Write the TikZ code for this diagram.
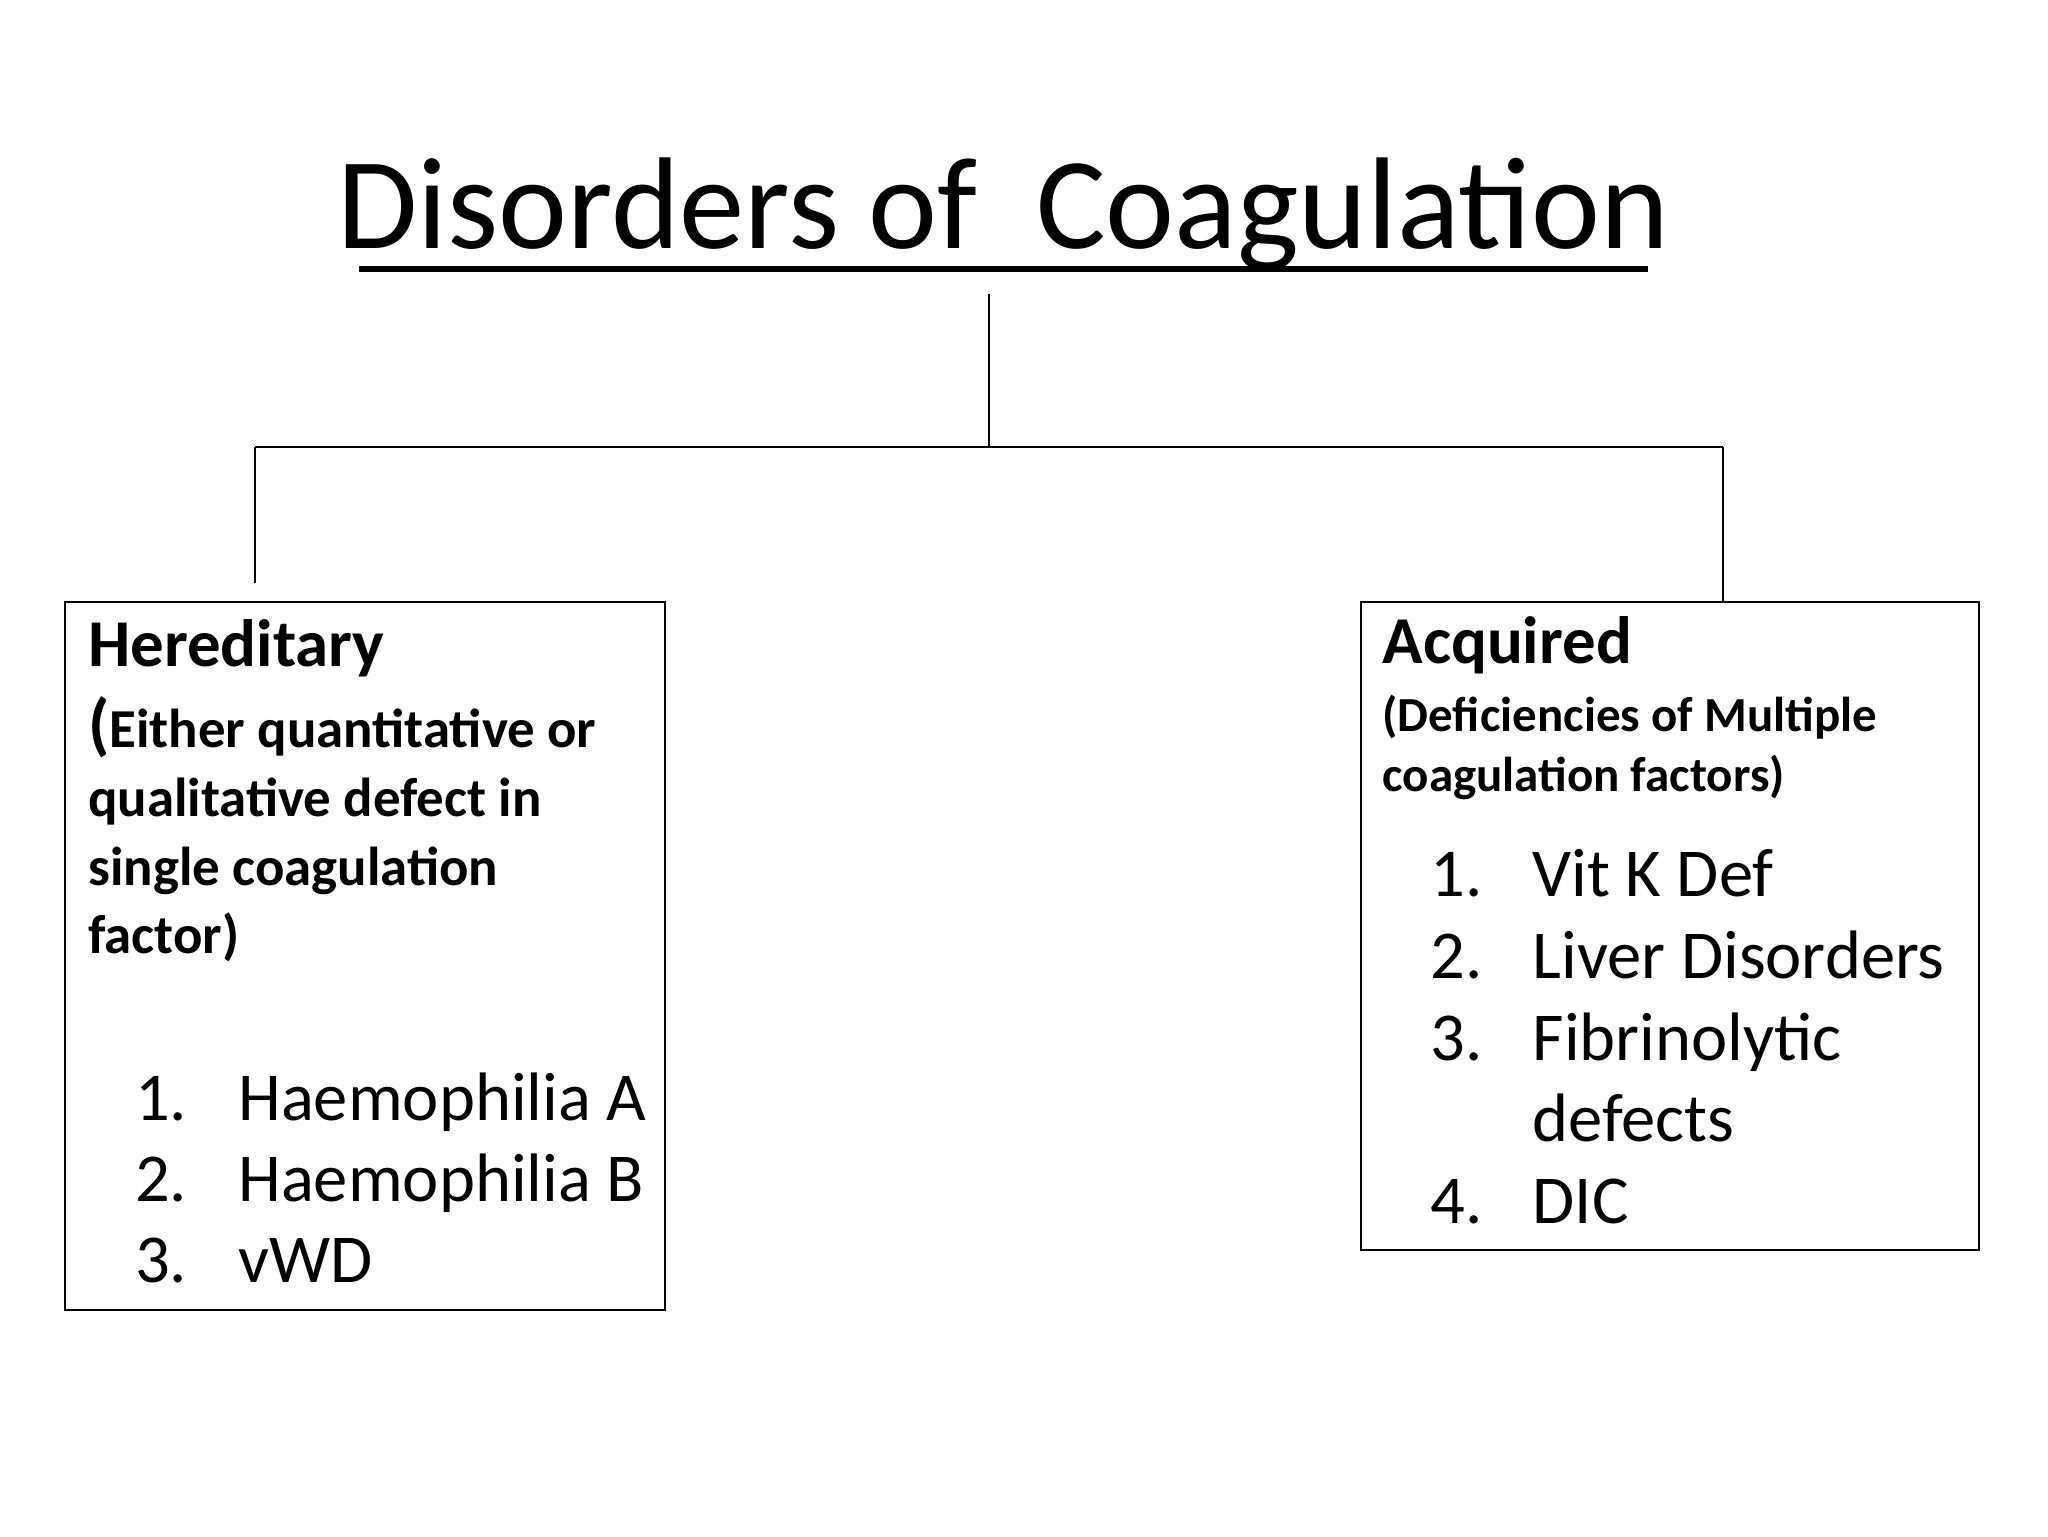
\documentclass[tikz,border=0pt]{standalone}
\usepackage{fontspec}
\setmainfont{Carlito}
\begin{document}
\begin{tikzpicture}[x=0.4pt,y=-0.4pt,
  ln/.style={draw=black,line width=0.6pt},
  box/.style={draw=black,line width=0.6pt},
  t/.style={anchor=base west,inner sep=0pt},
  bh/.style={t,font=\fontsize{20.5}{24}\selectfont\bfseries},
  bs/.style={t,font=\fontsize{16.8}{20}\selectfont\bfseries},
  bs2/.style={t,font=\fontsize{15}{18}\selectfont\bfseries},
  li/.style={t,font=\fontsize{21}{25}\selectfont}]
\useasboundingbox (0,0) rectangle (1568,1176);
\node[anchor=base,inner sep=0pt,font=\fontsize{40}{48}\selectfont] (title) at (768,190) {Disorders of\ \ Coagulation};
\draw[line width=2pt] (275,206) -- (1262,206);
\coordinate (top) at (757,225);
\coordinate (mid) at (757,342);
\coordinate (lc) at (195,342);
\coordinate (rc) at (1319,342);
\coordinate (lb) at (195,446);
\coordinate (rb) at (1319,461);
\draw[ln] (top) -- (mid);
\draw[ln] (lc) -- (rc);
\draw[ln] (lc) -- (lb);
\draw[ln] (rc) -- (rb);
\draw[box] (50,461) rectangle (509,1003);
\draw[box] (1042,461) rectangle (1515,957);
\node[bh] (h) at (67,510) {Hereditary};
\node[bs] (h1) at (67,572) {{\fontsize{21}{24}\selectfont(}Either quantitative or};
\node[bs] (h2) at (67,625) {qualitative defect in};
\node[bs] (h3) at (67,678) {single coagulation};
\node[bs] (h4) at (67,730) {factor)};
\node[li] (n1) at (103,858) {1.}; \node[li] (l1) at (182,858) {Haemophilia A};
\node[li] (n2) at (103,920) {2.}; \node[li] (l2) at (182,920) {Haemophilia B};
\node[li] (n3) at (103,982) {3.}; \node[li] (l3) at (182,982) {vWD};
\node[bh] (a) at (1058,508) {Acquired};
\node[bs2] (a1) at (1058,560) {(Deficiencies of Multiple};
\node[bs2] (a2) at (1058,606) {coagulation factors)};
\node[li] (m1) at (1095,686) {1.}; \node[li] (k1) at (1173,686) {Vit K Def};
\node[li] (m2) at (1095,749) {2.}; \node[li] (k2) at (1173,749) {Liver Disorders};
\node[li] (m3) at (1095,812) {3.}; \node[li] (k3) at (1173,812) {Fibrinolytic};
\node[li] (k3b) at (1173,874) {defects};
\node[li] (m4) at (1095,937) {4.}; \node[li] (k4) at (1173,937) {DIC};
\end{tikzpicture}
\end{document}
